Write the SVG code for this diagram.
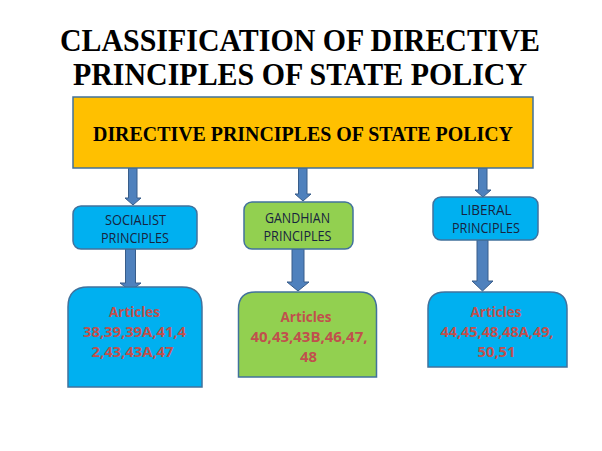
<svg xmlns="http://www.w3.org/2000/svg" width="602" height="451" viewBox="0 0 602 451">
<style>
.title{font-family:"Liberation Serif","Times New Roman",serif;font-weight:bold;fill:#000;text-anchor:middle}
.lbl{font-family:"Open Sans","Noto Sans",sans-serif;font-size:14px;fill:#17233F;text-anchor:middle}
.art{font-family:"Open Sans","Noto Sans",sans-serif;font-size:15px;font-weight:bold;fill:#C0504D;text-anchor:middle}
.box{stroke:#41719C;stroke-width:1.5}
.blue{fill:#00B0F0}
.green{fill:#92D050}
.arrow{fill:#4F81BD;stroke:#385D8A;stroke-width:1}
</style>
<rect width="602" height="451" fill="#fff"/>
<text class="title" x="300" y="51" font-size="32" textLength="480" lengthAdjust="spacingAndGlyphs">CLASSIFICATION OF DIRECTIVE</text>
<text class="title" x="300" y="85" font-size="32" textLength="454" lengthAdjust="spacingAndGlyphs">PRINCIPLES OF STATE POLICY</text>
<g id="connectors">
<path class="arrow" d="M128.5,168 H137 V198 H141 L133,205 L125,198 H128.5 Z"/>
<path class="arrow" d="M298.5,168 H307 V194 H311 L303,201 L295,194 H298.5 Z"/>
<path class="arrow" d="M478.5,168 H487 V190 H491 L483,197 L475,190 H478.5 Z"/>
<path class="arrow" d="M125.5,249 H135.5 V283 H141 L130.5,291 L120,283 H125.5 Z"/>
<path class="arrow" d="M292,249 H304 V282 H309 L298,291 L287,282 H292 Z"/>
<path class="arrow" d="M477,240 H488 V281 H493 L482.5,291 L472,281 H477 Z"/>
</g>
<g id="root">
<rect x="73" y="97" width="460" height="71" fill="#FFC000" class="box"/>
<text class="title" x="303" y="141" font-size="20" textLength="420" lengthAdjust="spacingAndGlyphs">DIRECTIVE PRINCIPLES OF STATE POLICY</text>
</g>
<g id="socialist">
<rect x="73" y="206" width="124" height="43" rx="8" class="box blue"/>
<text class="lbl" x="135.5" y="225" textLength="61" lengthAdjust="spacingAndGlyphs">SOCIALIST</text>
<text class="lbl" x="135" y="243" textLength="68" lengthAdjust="spacingAndGlyphs">PRINCIPLES</text>
</g>
<g id="gandhian">
<rect x="244" y="202" width="109" height="47" rx="8" class="box green"/>
<text class="lbl" x="297.5" y="222.5" textLength="65" lengthAdjust="spacingAndGlyphs">GANDHIAN</text>
<text class="lbl" x="297.5" y="240.5" textLength="68" lengthAdjust="spacingAndGlyphs">PRINCIPLES</text>
</g>
<g id="liberal">
<rect x="433" y="197" width="105" height="43" rx="8" class="box blue"/>
<text class="lbl" x="486" y="215" textLength="51" lengthAdjust="spacingAndGlyphs">LIBERAL</text>
<text class="lbl" x="486" y="233" textLength="68" lengthAdjust="spacingAndGlyphs">PRINCIPLES</text>
</g>
<g id="socialist-articles">
<path d="M68,387 V307 Q68,287 88,287 H182 Q202,287 202,307 V387 Z" class="box blue"/>
<text class="art" x="134.5" y="317" textLength="51" lengthAdjust="spacingAndGlyphs">Articles</text>
<text class="art" x="134.5" y="337" textLength="103" lengthAdjust="spacingAndGlyphs">38,39,39A,41,4</text>
<text class="art" x="132.5" y="357" textLength="82" lengthAdjust="spacingAndGlyphs">2,43,43A,47</text>
</g>
<g id="gandhian-articles">
<path d="M238.5,377 V309 Q238.5,292 255.5,292 H359.5 Q376.5,292 376.5,309 V377 Z" class="box green"/>
<text class="art" x="306" y="322" textLength="51" lengthAdjust="spacingAndGlyphs">Articles</text>
<text class="art" x="309" y="342" textLength="117" lengthAdjust="spacingAndGlyphs">40,43,43B,46,47,</text>
<text class="art" x="308.5" y="362" textLength="17" lengthAdjust="spacingAndGlyphs">48</text>
</g>
<g id="liberal-articles">
<path d="M428,367 V309 Q428,292 445,292 H550 Q567,292 567,309 V367 Z" class="box blue"/>
<text class="art" x="496" y="317" textLength="51" lengthAdjust="spacingAndGlyphs">Articles</text>
<text class="art" x="497" y="337" textLength="113" lengthAdjust="spacingAndGlyphs">44,45,48,48A,49,</text>
<text class="art" x="496.5" y="357" textLength="38" lengthAdjust="spacingAndGlyphs">50,51</text>
</g>
</svg>
